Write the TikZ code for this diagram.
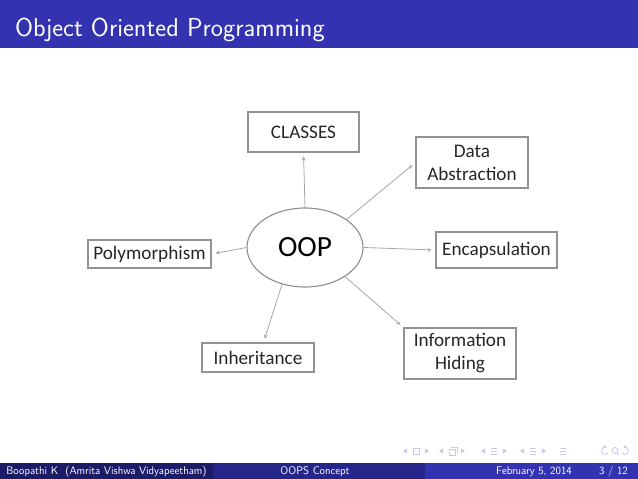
\documentclass[tikz,border=0pt]{standalone}
\usepackage{fontspec}
\newfontfamily\calibri{Carlito}
\usetikzlibrary{shapes.geometric}
\definecolor{bleubeamer}{RGB}{51,51,178}
\definecolor{piedA}{RGB}{27,27,104}
\definecolor{piedB}{RGB}{38,38,138}
\definecolor{piedC}{RGB}{51,51,178}
\definecolor{navbleu}{RGB}{200,200,232}
\begin{document}
\begin{tikzpicture}[x=1pt,y=-1pt,
    boite/.style={draw=gray!85, line width=1.1pt, text=black!85, align=center, inner sep=0pt,
        font=\calibri\fontsize{19.2}{23}\selectfont},
    fleche/.style={->, >=stealth, draw=black!35, line width=0.8pt, shorten >=4pt},
    pied/.style={text=white, inner sep=0pt, font=\sffamily\fontsize{11}{12}\selectfont},
    nav/.style={draw=navbleu, line width=0.8pt}]
    \useasboundingbox (0,0) rectangle (638,479);

    % Bandeau du titre
    \fill[bleubeamer] (0,0) rectangle (638,48);
    \node[anchor=base west, text=white, inner sep=0pt, font=\sffamily\fontsize{26}{30}\selectfont] (titre) at (15,36) {Object Oriented Programming};

    % Noeud central et les six notions
    \node[draw=gray!90, line width=1.1pt, ellipse, minimum width=116pt, minimum height=79pt, inner sep=0pt,
        font=\calibri\fontsize{29.3}{30}\selectfont] (oop) at (305,247.5) {OOP};
    \node[boite, minimum width=111pt, minimum height=40pt] (classes) at (303.5,132) {CLASSES};
    \node[boite, minimum width=112pt, minimum height=51pt] (data) at (472,162.5) {Data\\Abstraction};
    \node[boite, minimum width=121pt, minimum height=36pt] (encap) at (496.5,250) {Encapsulation};
    \node[boite, minimum width=112pt, minimum height=51pt] (info) at (460,353.5) {Information\\Hiding};
    \node[boite, minimum width=112pt, minimum height=29pt] (herit) at (258,357.5) {Inheritance};
    \node[boite, minimum width=123pt, minimum height=28pt] (poly) at (149.5,254) {Polymorphism};

    % Fleches depuis OOP
    \draw[fleche] (oop.north) -- (classes.south);
    \draw[fleche] (oop.34) -- (data.west);
    \draw[fleche] (oop.east) -- (encap.west);
    \draw[fleche] (oop.324) -- (info.north west);
    \draw[fleche] (oop.238) -- (herit.70);
    \draw[fleche] (oop.west) -- (poly.east);

    % Symboles de navigation
    \foreach \cx in {416,452,494,533} {
        \fill[navbleu] (\cx-13,451) -- (\cx-9,448.5) -- (\cx-9,453.5) -- cycle;
        \fill[navbleu] (\cx+13,451) -- (\cx+9,448.5) -- (\cx+9,453.5) -- cycle;
    }
    \draw[nav] (413,448) rectangle (419,454);
    \draw[nav] (449,449) rectangle (455,455) (451,447) -- (457,447) -- (457,453);
    \foreach \cx in {494,533,563} {
        \draw[nav] (\cx-3,448) -- (\cx+3,448) (\cx-3,451) -- (\cx+3,451) (\cx-3,454) -- (\cx+3,454);
    }
    \draw[nav, ->, >=stealth] (605,451) ++(30:3.5) arc (30:300:3.5);
    \draw[nav] (615,450.5) circle (3) (617,453) -- (619,455);
    \draw[nav, ->, >=stealth] (625,451) ++(150:3.5) arc (150:-120:3.5);

    % Pied de page
    \fill[piedA] (0,463) rectangle (213,479);
    \fill[piedB] (213,463) rectangle (425,479);
    \fill[piedC] (425,463) rectangle (638,479);
    \node[pied, anchor=base] (auteur) at (106.5,474) {Boopathi K\ \ (Amrita Vishwa Vidyapeetham)};
    \node[pied, anchor=base] (cours) at (315,474) {OOPS Concept};
    \node[pied, anchor=base east] (date) at (572,474) {February 5, 2014};
    \node[pied, anchor=base east] (page) at (628,474) {3 / 12};
\end{tikzpicture}
\end{document}
